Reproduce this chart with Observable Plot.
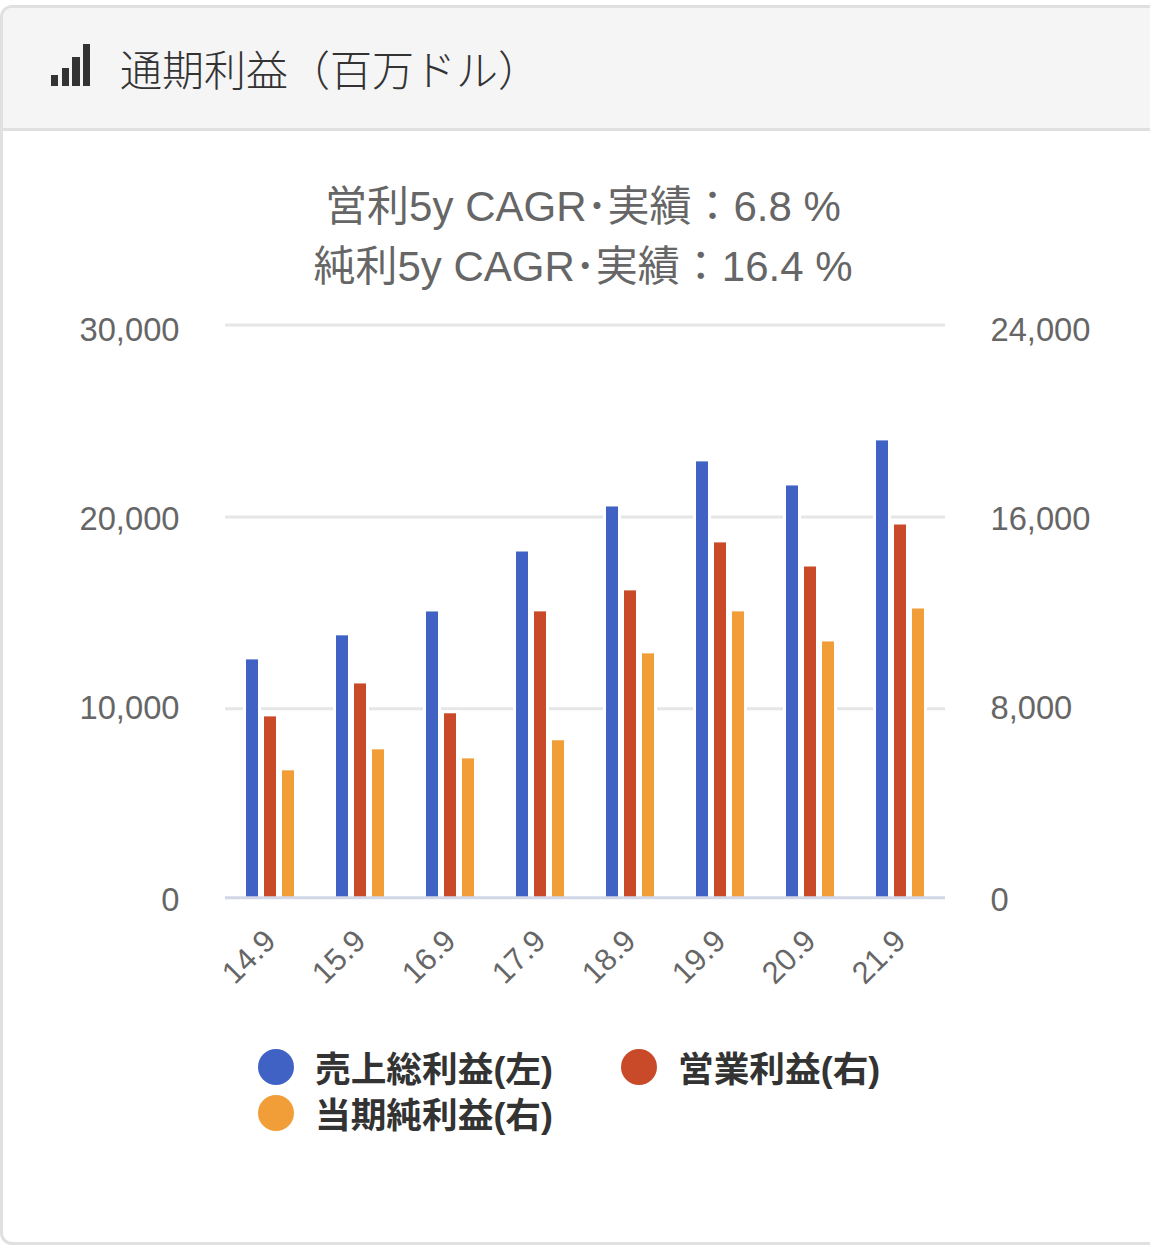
<!DOCTYPE html>
<html lang="ja">
<head>
<meta charset="utf-8">
<script src="https://cdn.jsdelivr.net/npm/d3@7"></script>
<script src="https://cdn.jsdelivr.net/npm/@observablehq/plot@0.6"></script>
<style>
html,body{margin:0;padding:0;background:#fff;}
body{width:1150px;height:1245px;overflow:hidden;position:relative;}
#card{position:absolute;left:0;top:5px;width:1170px;height:1240px;box-sizing:border-box;border:3px solid #e0e0e0;border-radius:12px 0 0 12px;background:#fff;overflow:hidden;}
#head{position:absolute;left:0;top:0;right:0;height:120px;background:#f5f5f5;border-bottom:3px solid #e0e0e0;}
#icon{position:absolute;left:48px;top:36px;width:40px;height:42px;display:flex;align-items:flex-end;gap:3.5px;}
#icon i{display:block;width:7.2px;background:#333;}
#title{position:absolute;left:117px;top:30px;font:300 42px "Noto Sans CJK JP";line-height:60px;color:#333;white-space:nowrap;}
#sub{position:absolute;left:0;top:177px;width:1150px;text-align:center;font:42px "Liberation Sans","Noto Sans CJK JP";line-height:60px;color:#666;}
#sub div{transform:translateX(8px);}
#chart{position:absolute;left:0;top:290px;}
#chart svg{display:block;}
.lg{position:absolute;font:bold 35.7px "Liberation Sans","Noto Sans CJK JP";line-height:46px;color:#333;white-space:nowrap;}
.lg i{position:absolute;left:-57px;top:2px;width:36px;height:36px;border-radius:50%;}
</style>
</head>
<body>
<div id="card">
  <div id="head">
    <div id="icon"><i style="height:11px"></i><i style="height:18px"></i><i style="height:29px"></i><i style="height:42px"></i></div>
    <div id="title">通期利益（百万ドル）</div>
  </div>
</div>
<div id="sub"><div>営利5y CAGR･実績：6.8 %</div><div>純利5y CAGR･実績：16.4 %</div></div>
<div id="chart"></div>
<div id="legend"></div>
<script>
const years = ["14.9","15.9","16.9","17.9","18.9","19.9","20.9","21.9"];
const grossProfit = [12460,13720,14970,18110,20470,22830,21570,23930];
const operatingProfit = [7580,8960,7710,11980,12860,14870,13860,15620];
const netProfit = [5320,6200,5820,6580,10220,11980,10720,12100];
const seriesNames = ["売上総利益(左)","営業利益(右)","当期純利益(右)"];
const seriesColors = ["#3f62c4","#c94a28","#f19d38"];
const leftTicks = [0,10000,20000,30000];
const rightScale = 24000/30000;

const rows = [];
[grossProfit,operatingProfit,netProfit].forEach((vals,s)=>{
  vals.forEach((v,i)=>rows.push({year:years[i],series:seriesNames[s],value:s===0?v:v/rightScale}));
});
const fmt = d3.format(",");
const font = '"Liberation Sans",sans-serif';
const labelDy = new Map([[0,2.7],[10000,1.7],[20000,3.6],[30000,5.5]]);
const ruleDy = new Map([[10000,2],[20000,1.1],[30000,0]]);

const plot = Plot.plot({
  width:1150,height:710,
  marginLeft:225,marginRight:205,marginTop:34.5,marginBottom:102.7,
  style:{fontFamily:font,fontSize:"32.7px",background:"transparent",overflow:"visible"},
  fx:{domain:years,padding:0,label:null,axis:null},
  x:{domain:seriesNames,paddingInner:1/3,paddingOuter:7/6,axis:null,round:false},
  y:{domain:[0,30000],label:null,axis:null},
  color:{domain:seriesNames,range:seriesColors},
  marks:[
    ...leftTicks.slice(1).map(t=>Plot.ruleY([t],{stroke:"#e6e6e6",strokeWidth:3,dy:ruleDy.get(t)})),
    Plot.barY(rows,{fx:"year",x:"series",y:"value",fill:"series",stroke:"#fff",strokeWidth:6,paintOrder:"stroke"}),
    Plot.ruleY([0],{stroke:"#d2d7e8",strokeWidth:3}),
    ...leftTicks.flatMap(t=>[
      Plot.axisY([t],{anchor:"left",tickSize:0,tickPadding:46,tickFormat:fmt,fill:"#666",label:null,dy:labelDy.get(t)}),
      Plot.axisY([t],{anchor:"right",tickSize:0,tickPadding:45,tickFormat:d=>fmt(d*rightScale),fill:"#666",label:null,dy:labelDy.get(t)})
    ]),
    Plot.axisFx({anchor:"bottom",tickSize:0,tickPadding:26,tickRotate:-45,fill:"#666",label:null,fontSize:31,dy:12})
  ]
});
document.getElementById("chart").appendChild(plot);

const legendPos = [[315,1047],[678,1047],[315,1093]];
const lg = document.getElementById("legend");
seriesNames.forEach((n,i)=>{
  const d=document.createElement("div");d.className="lg";
  d.style.left=legendPos[i][0]+"px";d.style.top=legendPos[i][1]+"px";
  d.textContent=n;
  const c=document.createElement("i");c.style.background=seriesColors[i];d.appendChild(c);
  lg.appendChild(d);
});
</script>
</body>
</html>
